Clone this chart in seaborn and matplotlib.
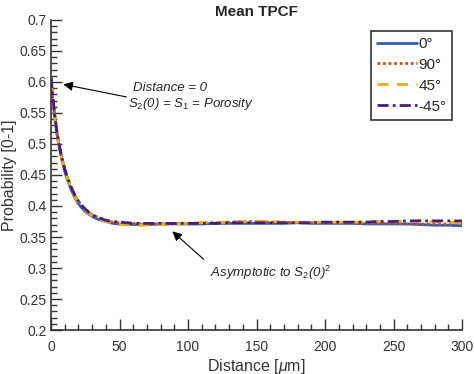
import matplotlib
matplotlib.use("Agg")
import matplotlib.pyplot as plt
from matplotlib.ticker import MultipleLocator
import seaborn as sns
import pandas as pd

# Data
distance = [0, 1, 2, 3, 4, 5, 6, 7, 8, 10, 12, 14, 16, 18, 20, 22, 25, 28, 31, 35, 40, 45, 50,
            60, 70, 80, 90, 100, 110, 120, 130, 140, 150, 160, 170, 180, 190, 200,
            210, 220, 230, 240, 250, 260, 270, 280, 290, 300]

deg_0 = [0.606, 0.580, 0.558, 0.538, 0.521, 0.507, 0.495, 0.484, 0.474, 0.456, 0.442, 0.430,
         0.420, 0.411, 0.404, 0.398, 0.391, 0.386, 0.382, 0.378, 0.375, 0.372, 0.371,
         0.370, 0.370, 0.371, 0.371, 0.371, 0.371, 0.372, 0.372, 0.372, 0.372, 0.372, 0.372,
         0.373, 0.372, 0.372, 0.372, 0.372, 0.371, 0.371, 0.371, 0.371, 0.370, 0.369, 0.369, 0.368]

deg_90 = [0.607, 0.583, 0.561, 0.542, 0.525, 0.511, 0.499, 0.488, 0.478, 0.460, 0.446, 0.434,
          0.424, 0.415, 0.408, 0.402, 0.395, 0.389, 0.385, 0.381, 0.377, 0.374, 0.373,
          0.372, 0.371, 0.371, 0.372, 0.372, 0.373, 0.373, 0.374, 0.375, 0.375, 0.374, 0.374,
          0.373, 0.373, 0.373, 0.373, 0.372, 0.372, 0.372, 0.372, 0.371, 0.371, 0.371, 0.371, 0.371]

deg_45 = [0.605, 0.582, 0.560, 0.540, 0.523, 0.509, 0.497, 0.486, 0.476, 0.458, 0.444, 0.432,
          0.422, 0.413, 0.406, 0.400, 0.393, 0.387, 0.383, 0.379, 0.375, 0.372, 0.370,
          0.369, 0.369, 0.370, 0.371, 0.372, 0.373, 0.373, 0.374, 0.375, 0.375, 0.375, 0.374,
          0.374, 0.374, 0.374, 0.374, 0.374, 0.374, 0.375, 0.375, 0.375, 0.376, 0.375, 0.374, 0.373]

deg_m45 = [0.608, 0.584, 0.562, 0.542, 0.525, 0.511, 0.499, 0.488, 0.478, 0.460, 0.446, 0.434,
           0.424, 0.415, 0.408, 0.402, 0.395, 0.389, 0.385, 0.381, 0.377, 0.375, 0.374,
           0.372, 0.372, 0.372, 0.372, 0.372, 0.372, 0.372, 0.373, 0.373, 0.373, 0.373, 0.373,
           0.373, 0.373, 0.374, 0.374, 0.374, 0.374, 0.375, 0.375, 0.376, 0.376, 0.376, 0.376, 0.376]

labels = ["0°", "90°", "45°", "-45°"]
colors = ["#2E5FB5", "#C8501E", "#E0B020", "#4A1E78"]
styles = ["-", (0, (1, 1)), (0, (4, 3)), (0, (4, 1.5, 1, 1.5))]

sns.set_style("ticks", {"xtick.direction": "in", "ytick.direction": "in"})
plt.rcParams["font.family"] = ["Liberation Sans", "DejaVu Sans"]
plt.rcParams["mathtext.fontset"] = "custom"
plt.rcParams["mathtext.rm"] = "Liberation Sans"
plt.rcParams["mathtext.it"] = "Liberation Sans:italic"

fig = plt.figure(figsize=(4.74, 3.74), dpi=100)
ax = fig.add_axes([0.1076, 0.1176, 0.8674, 0.829])

series = [deg_0, deg_90, deg_45, deg_m45]
for vals, lab, col, ls in zip(series, labels, colors, styles):
    df = pd.DataFrame({"Distance": distance, "Probability": vals})
    sns.lineplot(data=df, x="Distance", y="Probability", ax=ax, color=col,
                 linestyle=ls, linewidth=2, label=lab)

ax.set_xlim(0, 300)
ax.set_ylim(0.2, 0.7)
ax.xaxis.set_major_locator(MultipleLocator(50))
ax.xaxis.set_minor_locator(MultipleLocator(10))
ax.yaxis.set_major_locator(MultipleLocator(0.05))
ax.yaxis.set_minor_locator(MultipleLocator(0.01))
ax.set_yticks([0.2, 0.25, 0.3, 0.35, 0.4, 0.45, 0.5, 0.55, 0.6, 0.65, 0.7])
ax.set_yticklabels(["0.2", "0.25", "0.3", "0.35", "0.4", "0.45", "0.5",
                    "0.55", "0.6", "0.65", "0.7"])
ax.tick_params(which="major", direction="in", length=8, width=1, labelsize=10,
               colors="#333333", labelcolor="#333333")
ax.tick_params(which="minor", direction="in", length=4, width=1, colors="#333333")
ax.tick_params(axis="x", pad=7)
ax.tick_params(axis="y", pad=3)
sns.despine(ax=ax)
for side in ["left", "bottom"]:
    ax.spines[side].set_color("#333333")
    ax.spines[side].set_linewidth(1.2)

ax.set_xlabel(r"Distance [$\mu$m]", fontsize=11.5, color="#333333", labelpad=2)
ax.set_ylabel("Probability [0-1]", fontsize=11.5, color="#333333", labelpad=2)
ax.set_title("Mean TPCF", fontsize=11, fontweight="bold", pad=3)

ax.annotate("", xy=(7, 0.597), xytext=(57, 0.575),
            arrowprops=dict(arrowstyle="-|>", color="black", lw=0.8,
                            mutation_scale=14))
ax.text(87, 0.591, "Distance = 0", fontsize=9.5, style="italic",
        ha="center", va="center")
ax.text(102, 0.564, r"S$_2$(0) = S$_1$ = Porosity", fontsize=9.5, style="italic",
        ha="center", va="center")

ax.annotate("", xy=(87, 0.362), xytext=(113, 0.311),
            arrowprops=dict(arrowstyle="-|>", color="black", lw=0.8,
                            mutation_scale=14))
ax.text(160, 0.292, r"Asymptotic to S$_2$(0)$^2$", fontsize=9.5, style="italic",
        ha="center", va="center")

leg = ax.legend(loc="upper right", bbox_to_anchor=(0.976, 0.965), fontsize=11,
                frameon=True, fancybox=False, edgecolor="black", handlelength=2.6,
                handletextpad=0.1, borderpad=0.4, labelspacing=0.45, borderaxespad=0)
leg.get_frame().set_linewidth(1.2)

fig.savefig("out.png", dpi=100)
